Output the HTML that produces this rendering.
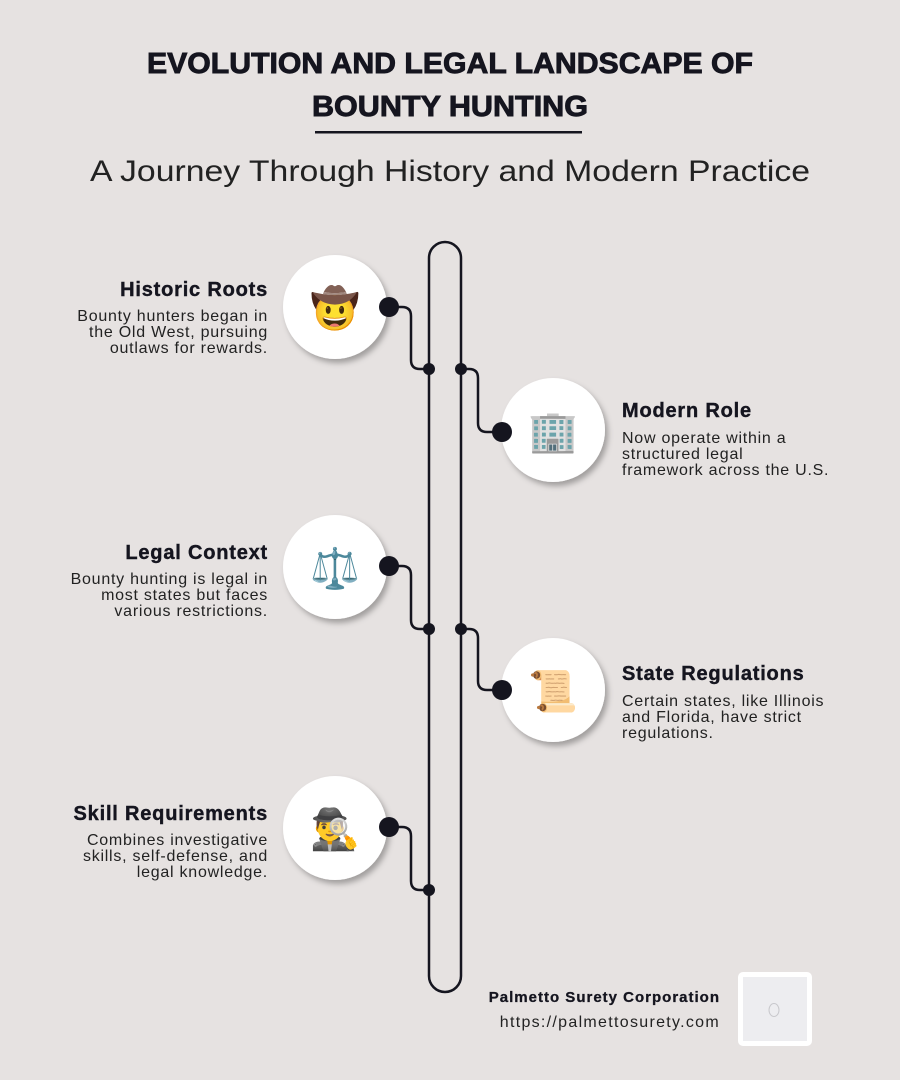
<!DOCTYPE html>
<html><head><meta charset="utf-8"><style>
html,body{margin:0;padding:0;background:#e6e2e1;}
svg{display:block}
text{font-family:"Liberation Sans",sans-serif;fill:#15151f}
.h{font-weight:bold;font-size:20px;letter-spacing:0.8px;stroke:#15151f;stroke-width:0.4}
.d{font-size:16px;fill:#222;letter-spacing:0.75px}
.e{font-size:40px;font-family:"Noto Color Emoji","DejaVu Sans",sans-serif}
</style></head><body>
<svg width="900" height="1080" viewBox="0 0 900 1080" xmlns="http://www.w3.org/2000/svg">
<defs>
<filter id="sh" x="-30%" y="-30%" width="160%" height="160%"><feDropShadow dx="3" dy="4" stdDeviation="3" flood-color="#000" flood-opacity="0.3"/></filter>
</defs>
<rect width="900" height="1080" fill="#e6e2e1"/>
<text x="450" y="73" text-anchor="middle" font-weight="bold" font-size="29" stroke="#15151f" stroke-width="0.9" textLength="606" lengthAdjust="spacingAndGlyphs">EVOLUTION AND LEGAL LANDSCAPE OF</text>
<text x="450" y="116" text-anchor="middle" font-weight="bold" font-size="29" stroke="#15151f" stroke-width="0.9" textLength="276" lengthAdjust="spacingAndGlyphs">BOUNTY HUNTING</text>
<rect x="315" y="131" width="267" height="2.5" fill="#15151f"/>
<text x="450" y="181" text-anchor="middle" font-size="30" textLength="720" lengthAdjust="spacingAndGlyphs" style="fill:#222">A Journey Through History and Modern Practice</text>

<path d="M429 976 V258 A16 16 0 0 1 461 258 V976 A16 16 0 0 1 429 976 Z" fill="none" stroke="#15151f" stroke-width="2.5"/>

<g fill="none" stroke="#15151f" stroke-width="2.5">
<path d="M389 307 H402 Q411 307 411 316 V360 Q411 369 420 369 H429"/>
<path d="M461 369 H469 Q478 369 478 378 V423 Q478 432 487 432 H502"/>
<path d="M389 566 H402 Q411 566 411 575 V620 Q411 629 420 629 H429"/>
<path d="M461 629 H469 Q478 629 478 638 V681 Q478 690 487 690 H502"/>
<path d="M389 827 H402 Q411 827 411 836 V881 Q411 890 420 890 H429"/>
</g>

<g fill="#fff" filter="url(#sh)">
<circle cx="335" cy="307" r="52"/>
<circle cx="553" cy="430" r="52"/>
<circle cx="335" cy="567" r="52"/>
<circle cx="553" cy="690" r="52"/>
<circle cx="335" cy="828" r="52"/>
</g>

<g fill="#15151f">
<circle cx="389" cy="307" r="10"/><circle cx="429" cy="369" r="6"/>
<circle cx="461" cy="369" r="6"/><circle cx="502" cy="432" r="10"/>
<circle cx="389" cy="566" r="10"/><circle cx="429" cy="629" r="6"/>
<circle cx="461" cy="629" r="6"/><circle cx="502" cy="690" r="10"/>
<circle cx="389" cy="827" r="10"/><circle cx="429" cy="890" r="6"/>
</g>

<text class="e" x="335" y="322" text-anchor="middle">🤠</text>
<text class="e" x="553" y="445" text-anchor="middle">🏢</text>
<text class="e" x="335" y="582" text-anchor="middle">⚖️</text>
<text class="e" x="553" y="705" text-anchor="middle">📜</text>
<text class="e" x="335" y="843" text-anchor="middle">🕵️‍♂️</text>

<g text-anchor="end">
<text class="h" x="268" y="296">Historic Roots</text>
<text class="d" x="268" y="321">Bounty hunters began in</text>
<text class="d" x="268" y="337">the Old West, pursuing</text>
<text class="d" x="268" y="353">outlaws for rewards.</text>

<text class="h" x="268" y="559">Legal Context</text>
<text class="d" x="268" y="584">Bounty hunting is legal in</text>
<text class="d" x="268" y="600">most states but faces</text>
<text class="d" x="268" y="616">various restrictions.</text>

<text class="h" x="268" y="820">Skill Requirements</text>
<text class="d" x="268" y="845">Combines investigative</text>
<text class="d" x="268" y="861">skills, self-defense, and</text>
<text class="d" x="268" y="877">legal knowledge.</text>
</g>

<text class="h" x="622" y="417">Modern Role</text>
<text class="d" x="622" y="443">Now operate within a</text>
<text class="d" x="622" y="459">structured legal</text>
<text class="d" x="622" y="475">framework across the U.S.</text>

<text class="h" x="622" y="680">State Regulations</text>
<text class="d" x="622" y="706">Certain states, like Illinois</text>
<text class="d" x="622" y="722">and Florida, have strict</text>
<text class="d" x="622" y="738">regulations.</text>

<text x="720" y="1002" text-anchor="end" font-weight="bold" font-size="15" letter-spacing="1" stroke="#15151f" stroke-width="0.3">Palmetto Surety Corporation</text>
<text x="720" y="1027" text-anchor="end" font-size="16" letter-spacing="1.3" style="fill:#222">https://palmettosurety.com</text>
<rect x="738" y="972" width="74" height="74" rx="5" fill="#fff"/>
<rect x="743" y="977" width="64" height="64" fill="#ededf0"/>
<ellipse cx="774" cy="1010" rx="5" ry="6.5" fill="none" stroke="#c8c8cc" stroke-width="1"/>
</svg>
</body></html>
